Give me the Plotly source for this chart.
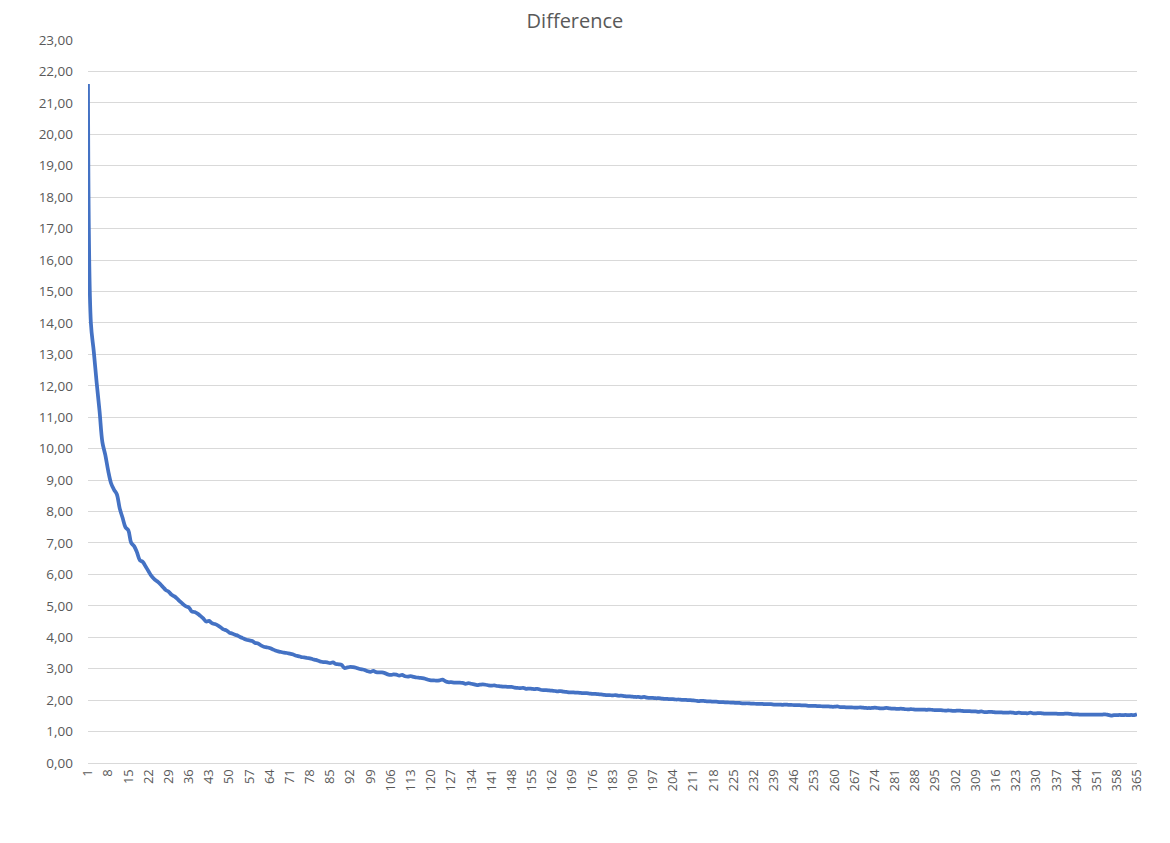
import plotly.graph_objects as go

# Day index (categories)
days = list(range(1, 366))

# Difference values, days 1..365
diff_1_50 = [21.6, 14.0, 13.1, 12.1, 11.2, 10.2, 9.8, 9.3, 8.9, 8.7,
             8.55, 8.1, 7.8, 7.5, 7.4, 7.0, 6.9, 6.7, 6.45, 6.4,
             6.25, 6.1, 5.95, 5.85, 5.78, 5.7, 5.6, 5.5, 5.45, 5.35,
             5.3, 5.22, 5.13, 5.05, 4.98, 4.95, 4.82, 4.8, 4.75, 4.68,
             4.6, 4.5, 4.52, 4.45, 4.42, 4.38, 4.32, 4.25, 4.22, 4.15]
diff_51_100 = [4.12, 4.08, 4.05, 4.0, 3.96, 3.92, 3.9, 3.88, 3.82, 3.8,
               3.74, 3.7, 3.68, 3.66, 3.62, 3.58, 3.55, 3.53, 3.51, 3.5,
               3.48, 3.46, 3.42, 3.4, 3.37, 3.36, 3.34, 3.33, 3.3, 3.28,
               3.25, 3.22, 3.21, 3.2, 3.18, 3.2, 3.15, 3.14, 3.12, 3.02,
               3.04, 3.06, 3.05, 3.03, 3.0, 2.98, 2.96, 2.92, 2.9, 2.93]
diff_101_150 = [2.89, 2.88, 2.88, 2.86, 2.82, 2.8, 2.82, 2.81, 2.78, 2.8,
                2.76, 2.75, 2.76, 2.74, 2.72, 2.71, 2.7, 2.68, 2.65, 2.63,
                2.63, 2.62, 2.63, 2.65, 2.6, 2.57, 2.57, 2.56, 2.56, 2.56,
                2.55, 2.52, 2.54, 2.52, 2.5, 2.48, 2.49, 2.5, 2.49, 2.47,
                2.46, 2.47, 2.45, 2.44, 2.43, 2.43, 2.42, 2.42, 2.4, 2.39]
diff_151_200 = [2.38, 2.39, 2.36, 2.37, 2.36, 2.35, 2.36, 2.33, 2.32, 2.32,
                2.31, 2.3, 2.29, 2.28, 2.29, 2.27, 2.26, 2.25, 2.25, 2.24,
                2.24, 2.23, 2.22, 2.22, 2.21, 2.2, 2.2, 2.19, 2.18, 2.17,
                2.16, 2.16, 2.15, 2.16, 2.14, 2.14, 2.13, 2.12, 2.12, 2.11,
                2.1, 2.1, 2.09, 2.1, 2.08, 2.07, 2.07, 2.06, 2.06, 2.05]
diff_201_250 = [2.04, 2.04, 2.03, 2.03, 2.02, 2.02, 2.01, 2.01, 2.0, 2.0,
                1.99, 1.98, 1.97, 1.98, 1.97, 1.96, 1.96, 1.95, 1.95, 1.94,
                1.94, 1.93, 1.93, 1.92, 1.92, 1.91, 1.91, 1.9, 1.9, 1.9,
                1.89, 1.89, 1.88, 1.88, 1.88, 1.87, 1.87, 1.87, 1.86, 1.86,
                1.86, 1.85, 1.86, 1.85, 1.85, 1.84, 1.84, 1.84, 1.83, 1.83]
diff_251_300 = [1.82, 1.82, 1.82, 1.81, 1.81, 1.8, 1.8, 1.8, 1.79, 1.79,
                1.8, 1.78, 1.78, 1.77, 1.77, 1.77, 1.76, 1.76, 1.77, 1.76,
                1.75, 1.75, 1.75, 1.76, 1.75, 1.74, 1.74, 1.75, 1.74, 1.73,
                1.73, 1.72, 1.73, 1.72, 1.71, 1.71, 1.71, 1.7, 1.7, 1.7,
                1.7, 1.69, 1.7, 1.69, 1.68, 1.68, 1.68, 1.67, 1.67, 1.67]
diff_301_350 = [1.66, 1.66, 1.67, 1.66, 1.65, 1.65, 1.65, 1.64, 1.64, 1.63,
                1.64, 1.62, 1.62, 1.63, 1.62, 1.61, 1.61, 1.61, 1.6, 1.6,
                1.61, 1.6, 1.59, 1.6, 1.59, 1.59, 1.58, 1.6, 1.58, 1.58,
                1.59, 1.58, 1.57, 1.57, 1.57, 1.57, 1.57, 1.56, 1.56, 1.57,
                1.57, 1.56, 1.55, 1.55, 1.54, 1.54, 1.54, 1.54, 1.54, 1.54]
diff_351_365 = [1.54, 1.54, 1.54, 1.55, 1.53, 1.51, 1.52, 1.52, 1.53, 1.52,
                1.53, 1.52, 1.53, 1.52, 1.55]

values = (diff_1_50 + diff_51_100 + diff_101_150 + diff_151_200
          + diff_201_250 + diff_251_300 + diff_301_350 + diff_351_365)

# Tick labels every 7 days
tick_days = list(range(1, 366, 7))
tick_labels = [str(d) for d in tick_days]
y_ticks = list(range(0, 24))

fig = go.Figure()
fig.add_trace(go.Scatter(
    x=days, y=values, mode="lines",
    line=dict(color="#4472C4", width=3.75),
    line_shape="spline",
    hoverinfo="x+y", showlegend=False,
))

font_family = "Open Sans, Noto Sans, Liberation Sans, sans-serif"
fig.update_layout(
    width=1170, height=843,
    margin=dict(l=80, r=41, t=32, b=88),
    paper_bgcolor="white", plot_bgcolor="white",
    separators=",.",
    title=dict(text="Difference", x=0.4846, xref="container", xanchor="center",
               y=0.9845, yref="container", yanchor="middle",
               font=dict(family=font_family, size=20, color="#595959")),
    font=dict(family=font_family, size=12, color="#595959"),
)
fig.update_xaxes(
    range=[1, 365], tickmode="array", tickvals=tick_days, ticktext=tick_labels,
    tickangle=-90, showgrid=False, zeroline=False,
    showline=True, linecolor="#D9D9D9", linewidth=1,
    ticks="", tickfont=dict(size=13, color="#595959"),
)
fig.update_yaxes(
    range=[0, 23], tickmode="array", tickvals=y_ticks, tickformat=".2f",
    showgrid=True, gridcolor="#D9D9D9", gridwidth=1, zeroline=False,
    showline=False, ticks="", ticklabelstandoff=14,
    tickfont=dict(size=13.5, color="#595959"),
)

fig.write_html("out.html")
